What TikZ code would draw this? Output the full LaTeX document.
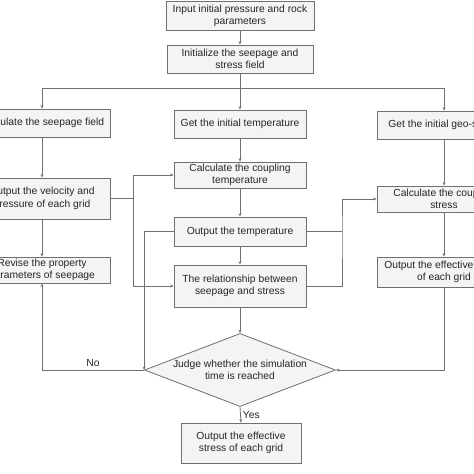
\documentclass[tikz,border=0pt]{standalone}
\usepackage{fontspec}
\setmainfont{Liberation Sans}
\usepackage{xcolor}
\usepackage{tikz}
\usetikzlibrary{shapes,arrows,positioning,calc,arrows.meta}

\definecolor{linegray}{HTML}{707070}
\definecolor{boxfill}{HTML}{F4F4F4}
\definecolor{txtgray}{HTML}{262626}

\begin{document}
\begin{tikzpicture}[x=1pt,y=-1pt,
    font=\fontsize{10.3}{12.6}\selectfont, text=txtgray,
    box/.style={draw=linegray, fill=boxfill, thick, align=center, inner sep=0pt, minimum width=134pt},
    judgebox/.style={draw=linegray, fill=boxfill, thick, diamond, inner sep=0pt, minimum width=191pt, minimum height=73pt, shape aspect=2.6},
    arr/.style={draw=linegray, thick, -{Stealth[length=3.5pt,width=3pt]}},
    conn/.style={draw=linegray, thick}]
    \useasboundingbox (0,0) rectangle (474,474);
    \clip (0,0) rectangle (474,474);

    % Top
    \node [box, minimum width=148pt, minimum height=29pt] (init) at (240,16) {Input initial pressure and rock\\parameters};
    \node [box, minimum width=146pt, minimum height=28pt] (field) at (240,59) {Initialize the seepage and\\stress field};
    \coordinate (branch) at (240,88);

    % Seepage column
    \node [box, minimum width=136pt, minimum height=28pt] (seep) at (42,123) {Calculate the seepage field};
    \node [box, minimum width=136pt, minimum height=41pt] (vel) at (42,198.5) {Output the velocity and\\pressure of each grid};
    \node [box, minimum width=136pt, minimum height=26pt] (rev) at (42,270) {Revise the property\\parameters of seepage};

    % Temperature column
    \node [box, minimum width=132pt, minimum height=28pt] (temp) at (240,124) {Get the initial temperature};
    \node [box, minimum width=132pt, minimum height=26pt] (ctemp) at (240,175) {Calculate the coupling\\temperature};
    \node [box, minimum width=132pt, minimum height=29pt] (otemp) at (240,231.5) {Output the temperature};
    \node [box, minimum width=132pt, minimum height=42pt] (rel) at (240,286) {The relationship between\\seepage and stress};

    % Stress column
    \node [box, minimum height=28pt] (geo) at (444,125) {Get the initial geo-stress};
    \node [box, minimum height=26pt] (cstress) at (444,199) {Calculate the coupling\\stress};
    \node [box, minimum height=30pt] (oeff) at (444,272) {Output the effective stress\\of each grid};

    % Judge and output
    \node [judgebox] (judge) at (240,370) {};
    \node [align=center] (judgetxt) at (judge) {Judge whether the simulation\\time is reached};
    \node [box, minimum width=120pt, minimum height=40pt] (out) at (241,443) {Output the effective\\stress of each grid};

    % Connectors
    \draw [arr] (init) -- (field);
    \draw [conn] (field) -- (branch);
    \draw [arr] (branch) -| (seep);
    \draw [arr] (branch) -- (temp);
    \draw [arr] (branch) -| (geo);

    \draw [arr] (seep) -- (vel);
    \draw [arr] (vel) -- (rev);
    \coordinate (split1) at (133,198.5);
    \draw [conn] (vel.east) -- (split1);
    \draw [arr] (split1) |- (ctemp.west);
    \draw [arr] (split1) |- (rel.west);

    \draw [arr] (temp) -- (ctemp);
    \draw [arr] (ctemp) -- (otemp);
    \draw [arr] (otemp) -- (rel);
    \draw [arr] (rel) -- (judge);
    \draw [arr] (otemp.west) -| (judge.west);

    \coordinate (split2) at (342,231.5);
    \draw [conn] (otemp.east) -- (split2);
    \draw [arr] (rel.east) -| (split2) |- (cstress.west);

    \draw [arr] (geo) -- (cstress);
    \draw [arr] (cstress) -- (oeff);
    \draw [arr] (oeff.south) |- (judge.east);

    \draw [arr] (judge.west) -| node[pos=0.25, above] {No} (rev.south);
    \draw [arr] (judge.south) -- node[right, inner sep=2pt] {Yes} (out.north);
\end{tikzpicture}
\end{document}
